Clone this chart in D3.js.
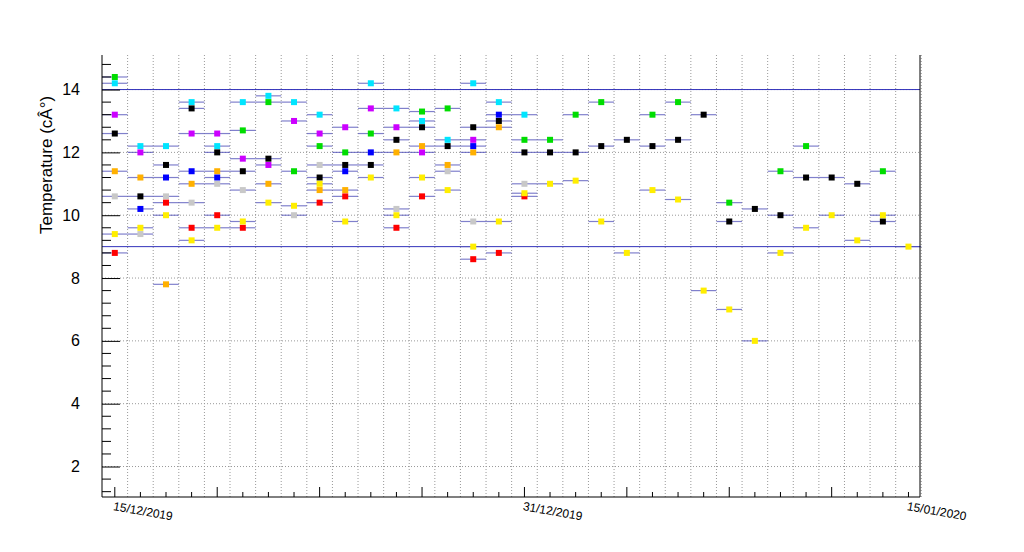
<!DOCTYPE html>
<html><head><meta charset="utf-8">
<script src="https://cdn.jsdelivr.net/npm/d3@7"></script>
<style>body{margin:0;background:#fff}</style>
</head><body><svg id="chart" width="1024" height="552"></svg>
<script>
// day index 0 = 15/12/2019
const nDays = 32
const startDate = new Date(2019, 11, 15)
const tickLabels = ['15/12/2019', '31/12/2019', '15/01/2020']
const tickDays = [0, 16, 31]
const limits = [9, 14]

const red = {0:8.8, 2:10.4, 3:9.6, 4:10.0, 5:9.6, 8:10.4, 9:10.6, 11:9.6, 12:10.6, 14:8.6, 15:8.8, 16:10.6}
const orange = {0:11.4, 1:11.2, 2:7.8, 3:11.0, 4:11.4, 6:11.0, 8:10.8, 9:10.8, 11:12.0, 12:12.2, 13:11.6, 14:12.0, 15:12.8}
const gray = {0:10.6, 1:9.4, 2:10.6, 3:10.4, 4:11.0, 5:10.8, 7:10.0, 8:11.6, 11:10.2, 13:11.4, 14:9.8, 16:11.0}
const blue = {1:10.2, 2:11.2, 3:11.4, 4:11.2, 9:11.4, 10:12.0, 14:12.2, 15:13.2}
const magenta = {0:13.2, 1:12.0, 3:12.6, 4:12.6, 5:11.8, 6:11.6, 7:13.0, 8:12.6, 9:12.8, 10:13.4, 11:12.8, 12:12.0, 14:12.4}
const cyan = {0:14.2, 1:12.2, 2:12.2, 3:13.6, 4:12.2, 5:13.6, 6:13.8, 7:13.6, 8:13.2, 10:14.2, 11:13.4, 12:13.0, 13:12.4, 14:14.2, 15:13.6, 16:13.2}
const green = {0:14.4, 5:12.7, 6:13.6, 7:11.4, 8:12.2, 9:12.0, 10:12.6, 12:13.3, 13:13.4, 16:12.4, 17:12.4, 18:13.2, 19:13.6, 21:13.2, 22:13.6, 24:10.4, 26:11.4, 27:12.2, 30:11.4}
const black = {0:12.6, 1:10.6, 2:11.6, 3:13.4, 4:12.0, 5:11.4, 6:11.8, 8:11.2, 9:11.6, 10:11.6, 11:12.4, 12:12.8, 13:12.2, 14:12.8, 15:13.0, 16:12.0, 17:12.0, 18:12.0, 19:12.2, 20:12.4, 21:12.2, 22:12.4, 23:13.2, 24:9.8, 25:10.2, 26:10.0, 27:11.2, 28:11.2, 29:11.0, 30:9.8}
const yellow = [9.4, 9.6, 10.0, 9.2, 9.6, 9.8, 10.4, 10.3, 11.0, 9.8, 11.2, 10.0, 11.2, 10.8, 9.0, 9.8, 10.7, 11.0, 11.1, 9.8, 8.8, 10.8, 10.5, 7.6, 7.0, 6.0, 8.8, 9.6, 10.0, 9.2, 10.0, 9.0]

const series = [
    [gray, '#c8c8c8'], [red, '#ff0000'], [orange, '#ffb000'], [blue, '#0000ff'],
    [magenta, '#cc00ff'], [cyan, '#00e5ff'], [green, '#00dd00'], [black, '#000000'], [yellow, '#ffee00']
]

const svg = d3.select('#chart')
const pLeft = 102, pRight = 920, pTop = 55, pBottom = 497
const day = 24 * 3600 * 1000
const x = d3.scaleTime()
    .domain([new Date(+startDate - 0.5 * day), new Date(+startDate + 31.45 * day)])
    .range([pLeft, pRight])
const y = d3.scaleLinear().domain([1.03, 15.1]).range([pBottom, pTop])
const dayX = d => x(new Date(+startDate + d * day))

// grid
const grid = svg.append('g').attr('stroke', '#999').attr('stroke-dasharray', '1,2').attr('stroke-width', 1)
for (let d = 0; d < nDays; d++) {
    grid.append('line').attr('x1', dayX(d + 0.5)).attr('x2', dayX(d + 0.5)).attr('y1', pTop).attr('y2', pBottom)
}
d3.range(2, 15, 2).forEach(v => {
    grid.append('line').attr('x1', pLeft).attr('x2', pRight).attr('y1', y(v)).attr('y2', y(v))
})

// limit lines
svg.append('g').selectAll('line').data(limits).join('line')
    .attr('x1', pLeft).attr('x2', pRight).attr('y1', d => y(d)).attr('y2', d => y(d))
    .attr('stroke', '#3333bb').attr('stroke-width', 1)

// points with horizontal bars
series.forEach(([vals, col]) => {
    const pts = Object.entries(vals).map(([k, v]) => [+k, v]).filter(p => p[1] != null)
    const g = svg.append('g')
    g.selectAll('line').data(pts).join('line')
        .attr('x1', d => dayX(d[0] - 0.5)).attr('x2', d => dayX(d[0] + 0.5))
        .attr('y1', d => y(d[1])).attr('y2', d => y(d[1]))
        .attr('stroke', '#5555bb').attr('stroke-opacity', 0.75).attr('stroke-width', 1.2)
    g.selectAll('rect').data(pts).join('rect')
        .attr('x', d => dayX(d[0]) - 3).attr('y', d => y(d[1]) - 3)
        .attr('width', 6).attr('height', 6).attr('fill', col)
})

// axes
const yAxis = svg.append('g').attr('transform', `translate(${pLeft},0)`)
    .call(d3.axisLeft(y).tickValues(d3.range(2, 15, 2)).tickSize(-18).tickPadding(22).tickFormat(d3.format('d')))
yAxis.selectAll('text').attr('font-size', 16).attr('font-family', 'Liberation Sans, Arial')
yAxis.append('g').selectAll('line').data(d3.range(1.2, 15.1, 0.4).filter(v => Math.abs(v / 2 - Math.round(v / 2)) > 0.01))
    .join('line').attr('x1', 0).attr('x2', 9).attr('y1', d => y(d)).attr('y2', d => y(d)).attr('stroke', '#000')
yAxis.select('.domain').attr('d', `M0,${pTop}V${pBottom}`)

svg.append('line').attr('x1', pLeft).attr('x2', pRight).attr('y1', pBottom).attr('y2', pBottom).attr('stroke', '#000')
svg.append('line').attr('x1', pRight).attr('x2', pRight).attr('y1', pTop).attr('y2', pBottom).attr('stroke', '#000')
for (let d = 0; d < nDays; d++) {
    svg.append('line').attr('x1', dayX(d)).attr('x2', dayX(d)).attr('y1', pBottom).attr('y2', pBottom - (d % 4 == 0 ? 10 : 5)).attr('stroke', '#000')
}
tickDays.forEach((d, i) => {
    svg.append('text').attr('transform', `translate(${dayX(d) - 2},${pBottom + 13}) rotate(10)`)
        .attr('font-size', 12).attr('font-family', 'Liberation Sans, Arial').text(tickLabels[i])
})

svg.append('text').attr('transform', `translate(52,${y(11.6)}) rotate(-90)`)
    .attr('text-anchor', 'middle').attr('font-size', 17).attr('font-family', 'Liberation Sans, Arial')
    .text('Temperature (cÂ°)')
</script></body></html>
